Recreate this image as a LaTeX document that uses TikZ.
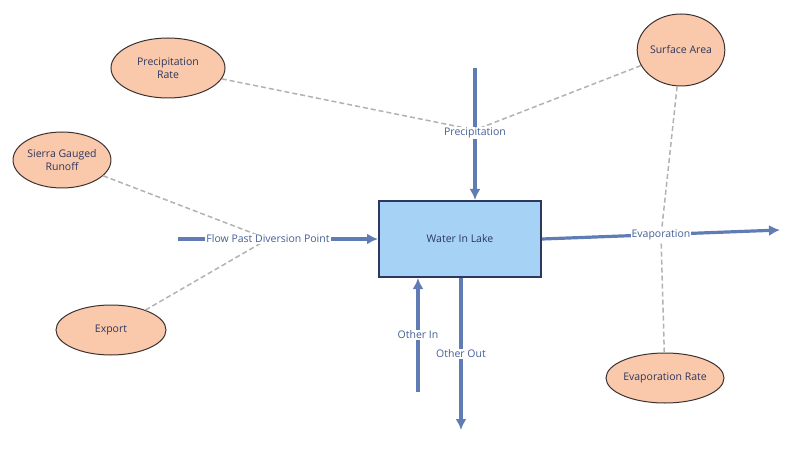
\documentclass[tikz,border=0pt]{standalone}
\usepackage{fontspec}
\setmainfont{Open Sans}
\usetikzlibrary{shapes.geometric,arrows.meta}
\definecolor{flow}{RGB}{95,125,180}
\definecolor{ovfill}{RGB}{250,200,170}
\definecolor{ovline}{RGB}{60,50,50}
\definecolor{txt}{RGB}{45,55,95}
\definecolor{ftxt}{RGB}{70,95,150}
\definecolor{boxfill}{RGB}{165,210,245}
\begin{document}
\begin{tikzpicture}[x=1pt,y=-1pt,
  var/.style={ellipse,draw=ovline,fill=ovfill,line width=1pt,align=center,font=\fontsize{10.5}{13}\selectfont,text=txt,inner sep=0pt},
  flowl/.style={fill=white,inner sep=1pt,font=\fontsize{10.5}{13}\selectfont,text=ftxt},
  flowa/.style={draw=flow,line width=3.2pt,-{Latex[length=11pt,width=11pt]}},
  link/.style={draw=gray!60,dash pattern=on 5pt off 3pt,line width=1.5pt}]
\useasboundingbox (0,0) rectangle (800,449);
\node[var,minimum width=114,minimum height=60] (pr) at (168,68) {Precipitation\\Rate};
\node[var,minimum width=86,minimum height=72] (sa) at (681,50) {Surface Area};
\node[var,minimum width=94,minimum height=56] (sg) at (62,160) {Sierra Gauged\\Runoff};
\node[var,minimum width=110,minimum height=50] (ex) at (111,330) {Export};
\node[var,minimum width=110,minimum height=50] (er) at (665,378) {Evaporation Rate};
\node[draw=txt,fill=boxfill,line width=1.2pt,minimum width=162,minimum height=76,font=\fontsize{10.5}{13}\selectfont,text=txt] (lake) at (460,239) {Water In Lake};
\coordinate (p0) at (475,68);
\coordinate (f0) at (178,239);
\coordinate (e1) at (780,230);
\coordinate (i0) at (418,392);
\coordinate (o1) at (461,430);
\draw[link] (pr) -- (475,130);
\draw[link] (sa) -- (475,130);
\draw[link] (sa) -- (661,236);
\draw[link] (er) -- (661,236);
\draw[link] (sg) -- (268,239);
\draw[link] (ex) -- (268,239);
\draw[flowa] (p0) -- (475,200) node[flowl,pos=0.49] (pl) {Precipitation};
\draw[flowa] (f0) -- (378,239) node[flowl,pos=0.45] (fl) {Flow Past Diversion Point};
\draw[flowa] (542,239) -- (e1) node[flowl,pos=0.5] (el) {Evaporation};
\draw[flowa] (i0) -- (418,278) node[flowl,pos=0.5] (il) {Other In};
\draw[flowa] (461,278) -- (o1) node[flowl,pos=0.5] (ol) {Other Out};
\end{tikzpicture}
\end{document}
